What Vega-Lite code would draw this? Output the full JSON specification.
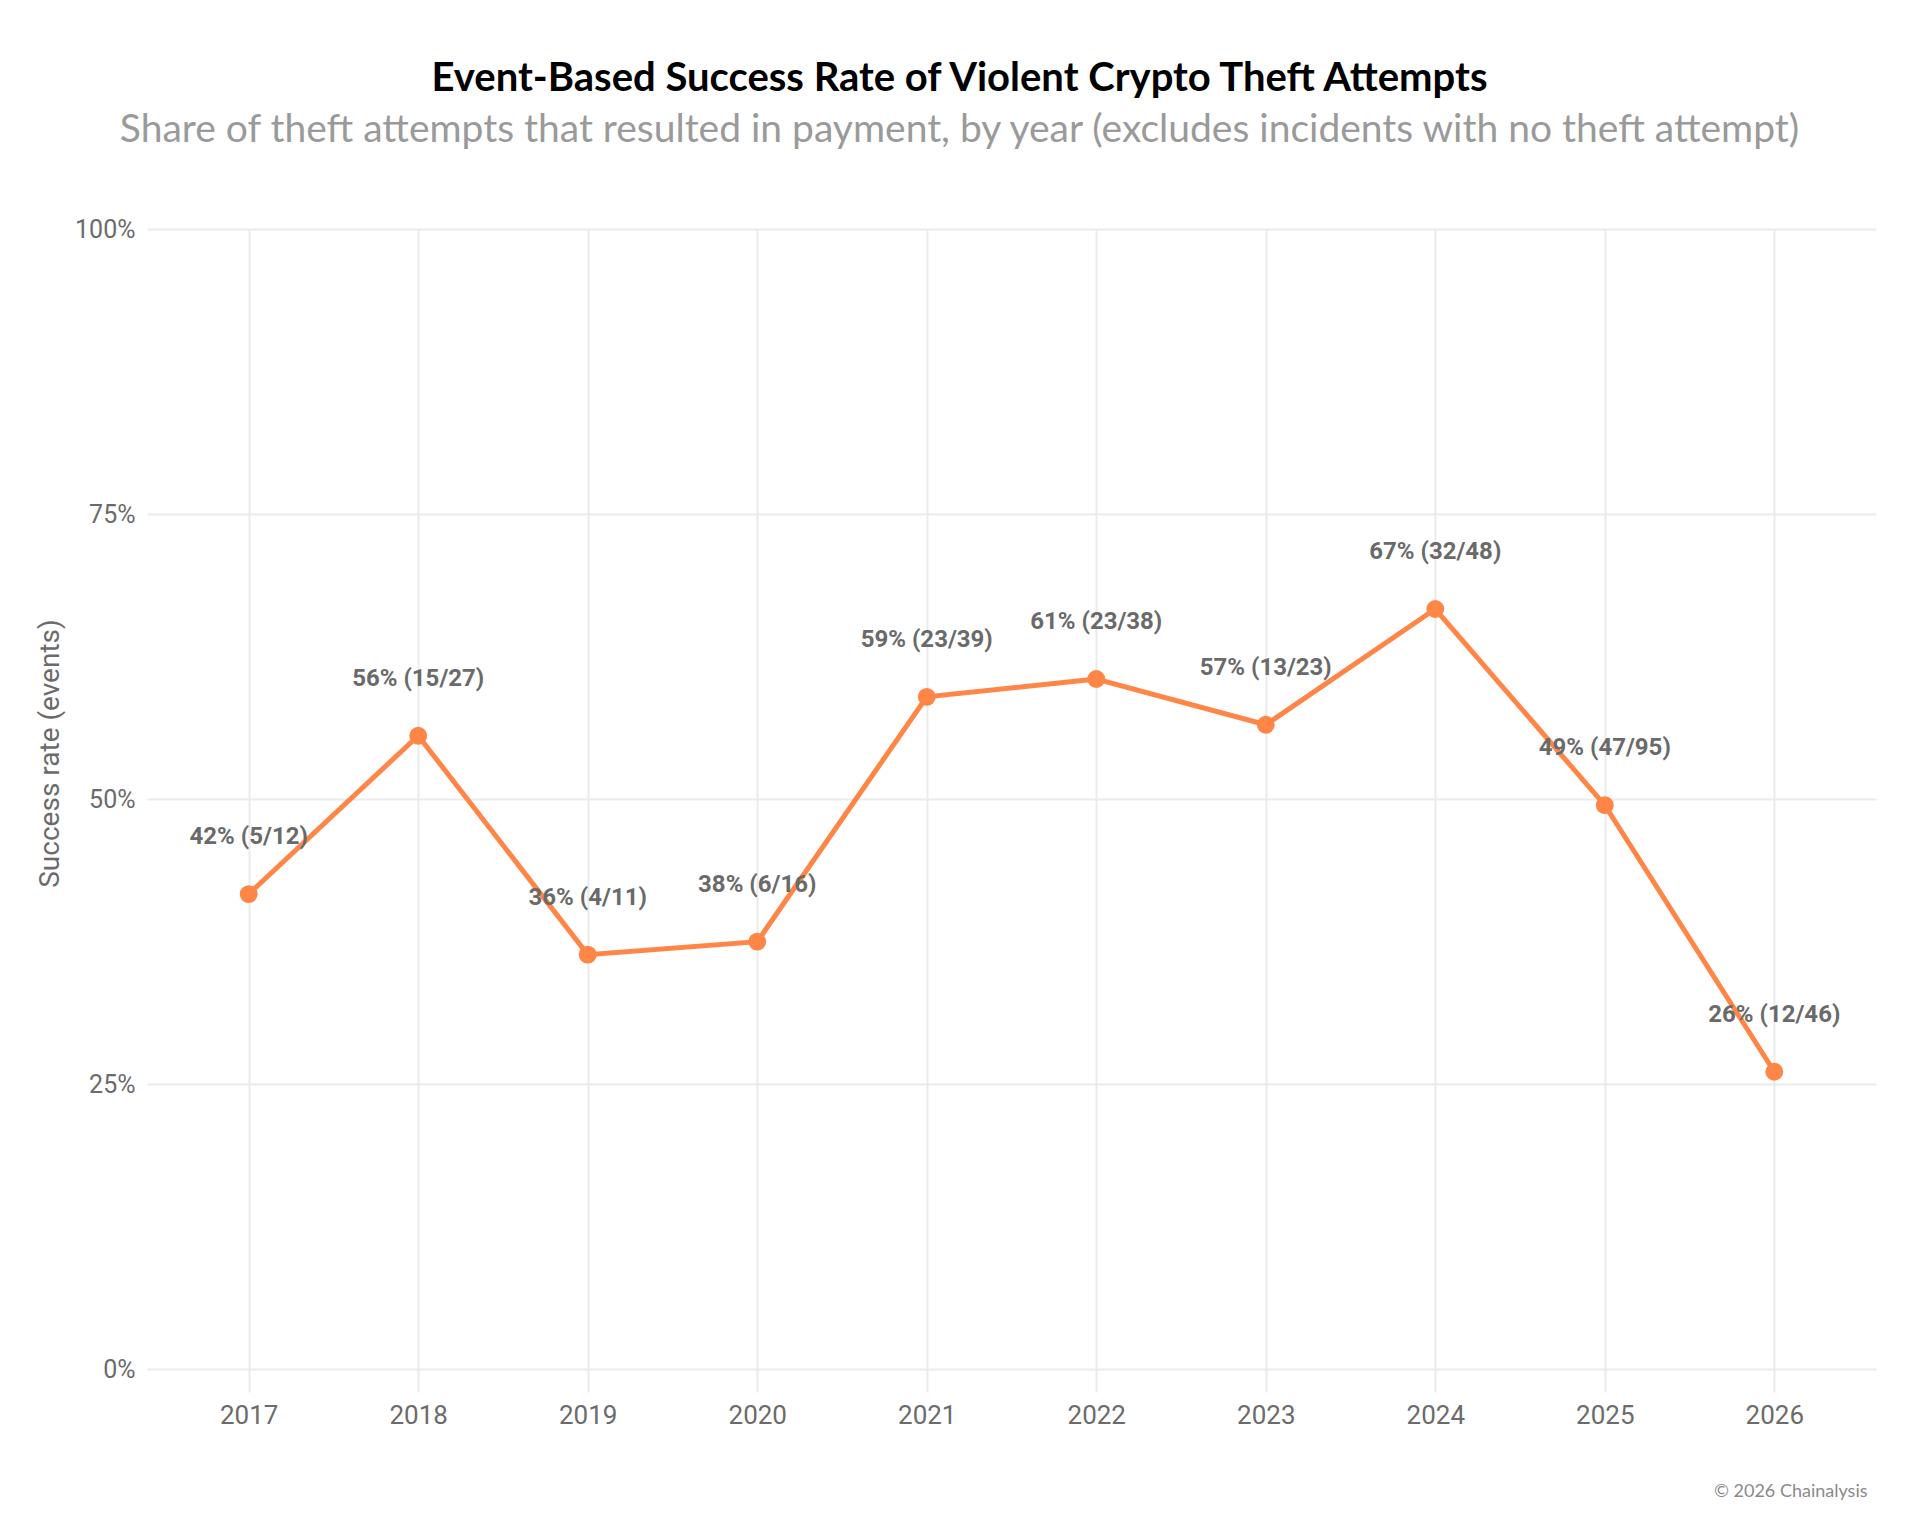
{
  "$schema": "https://vega.github.io/schema/vega-lite/v6.json",
  "autosize": "none",
  "width": 1729,
  "height": 1163,
  "padding": {"left": 147, "top": 229, "right": 44, "bottom": 136},
  "background": "white",
  "title": {
    "text": "Event-Based Success Rate of Violent Crypto Theft Attempts",
    "subtitle": "Share of theft attempts that resulted in payment, by year (excludes incidents with no theft attempt)",
    "anchor": "middle",
    "frame": "group",
    "dx": -52,
    "offset": 67,
    "font": "Lato",
    "fontSize": 40,
    "fontWeight": "bold",
    "color": "#000000",
    "subtitleFont": "Lato",
    "subtitleFontSize": 39,
    "subtitleColor": "#9a9a9a",
    "subtitlePadding": 12
  },
  "config": {
    "view": {"stroke": null},
    "axis": {
      "labelFont": "Roboto",
      "labelFontSize": 25,
      "labelColor": "#6b6b6b",
      "titleFont": "Roboto",
      "titleColor": "#6b6b6b",
      "titleFontWeight": "normal",
      "gridColor": "#ebebeb",
      "gridWidth": 2,
      "domain": false,
      "ticks": false
    }
  },
  "data": {
    "values": [
      {"year": "2017", "rate": 0.4167, "label": "42% (5/12)"},
      {"year": "2018", "rate": 0.5556, "label": "56% (15/27)"},
      {"year": "2019", "rate": 0.3636, "label": "36% (4/11)"},
      {"year": "2020", "rate": 0.375, "label": "38% (6/16)"},
      {"year": "2021", "rate": 0.5897, "label": "59% (23/39)"},
      {"year": "2022", "rate": 0.6053, "label": "61% (23/38)"},
      {"year": "2023", "rate": 0.5652, "label": "57% (13/23)"},
      {"year": "2024", "rate": 0.6667, "label": "67% (32/48)"},
      {"year": "2025", "rate": 0.4947, "label": "49% (47/95)"},
      {"year": "2026", "rate": 0.2609, "label": "26% (12/46)"}
    ]
  },
  "encoding": {
    "x": {
      "field": "year",
      "type": "ordinal",
      "scale": {"type": "point", "padding": 0.6},
      "axis": {
        "labelAngle": 0,
        "labelPadding": 10,
        "labelFontSize": 26,
        "grid": true,
        "title": "© 2026 Chainalysis",
        "titleFont": "Lato",
        "titleFontSize": 18,
        "titleColor": "#8a8a8a",
        "titleAnchor": "end",
        "titleAlign": "right",
        "titleX": 1720,
        "titleY": 90
      }
    },
    "y": {
      "field": "rate",
      "type": "quantitative",
      "scale": {"domain": [-0.02, 1], "nice": false, "zero": false},
      "axis": {
        "values": [0, 0.25, 0.5, 0.75, 1],
        "format": ".0%",
        "title": "Success rate (events)",
        "titleFontSize": 28,
        "titlePadding": 10,
        "titleY": 524,
        "titleAlign": "center",
        "labelPadding": 12
      }
    }
  },
  "layer": [
    {
      "mark": {"type": "line", "color": "#ff8646", "strokeWidth": 5}
    },
    {
      "mark": {"type": "circle", "color": "#ff8646", "opacity": 1, "size": 320}
    },
    {
      "mark": {
        "type": "text",
        "font": "Roboto",
        "fontSize": 24,
        "fontWeight": "bold",
        "color": "#6a6a6a",
        "dy": -57,
        "baseline": "middle"
      },
      "encoding": {"text": {"field": "label"}}
    }
  ]
}
